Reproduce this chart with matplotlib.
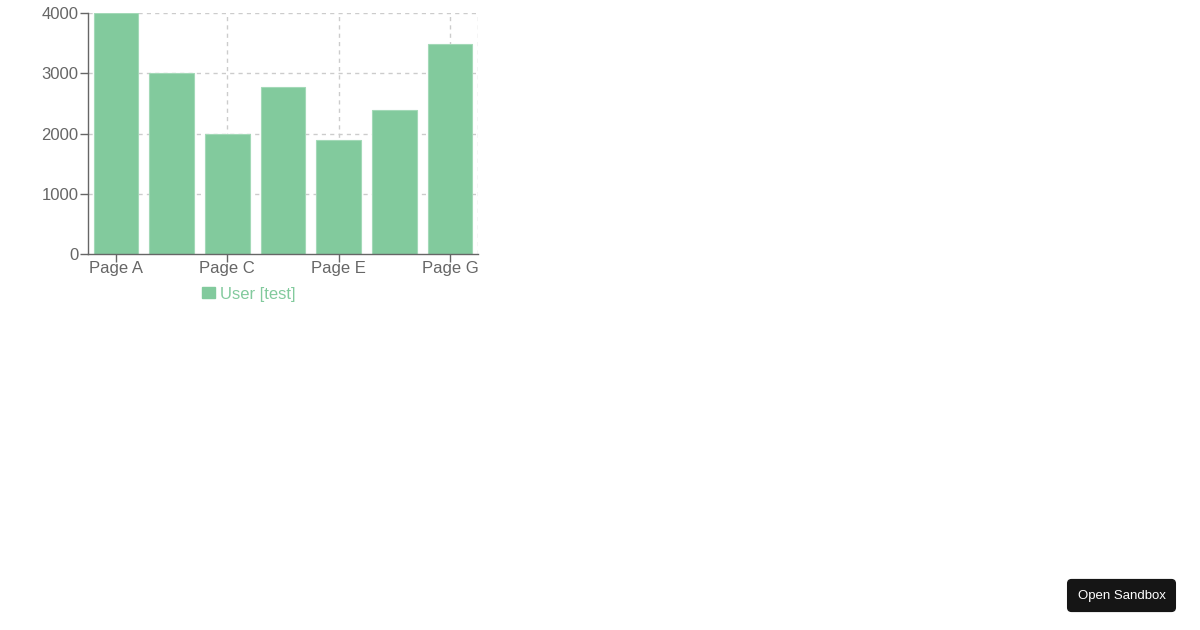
import matplotlib
matplotlib.use("Agg")
import matplotlib.pyplot as plt
from matplotlib.patches import Patch

categories = ["Page A", "Page B", "Page C", "Page D", "Page E", "Page F", "Page G"]
user_values = [4000, 3000, 2000, 2780, 1890, 2390, 3490]
y_ticks = [0, 1000, 2000, 3000, 4000]
series_name = "User [test]"

GREEN = "#82ca9d"
AXIS = "#666666"
GRID = "#cccccc"

plt.rcParams["font.family"] = ["Liberation Sans", "DejaVu Sans"]

fig = plt.figure(figsize=(12, 6.3), dpi=100)
W, H = 1200, 630
left, right, top, bottom = 88, 478, 13, 254
ax = fig.add_axes([left / W, 1 - bottom / H, (right - left) / W, (bottom - top) / H])

x = list(range(len(categories)))
ax.bar(x, user_values, width=0.8, color=GREEN, edgecolor="#a3d9b7", linewidth=0.8, zorder=3)

ax.set_xlim(-0.5, len(categories) - 0.5)
ax.set_ylim(0, 4000)

# grid
for yv in y_ticks[1:]:
    ax.axhline(yv, color=GRID, linestyle=(0, (3, 3)), linewidth=1, zorder=1)
shown = x[::2]
for xv in shown:
    ax.axvline(xv, color=GRID, linestyle=(0, (3, 3)), linewidth=1, zorder=1)
ax.axvline(len(categories) - 0.5, color=GRID, linestyle=(0, (3, 3)), linewidth=1, zorder=1)

ax.set_xticks(shown)
ax.set_xticklabels([categories[i] for i in shown])
ax.set_yticks(y_ticks)
ax.set_yticklabels([str(v) for v in y_ticks])
ax.tick_params(axis="both", colors=AXIS, labelcolor=AXIS, labelsize=12, length=6, width=1)
ax.tick_params(axis="x", pad=-1)
ax.tick_params(axis="y", pad=1)

for s in ["top", "right"]:
    ax.spines[s].set_visible(False)
for s in ["left", "bottom"]:
    ax.spines[s].set_color(AXIS)
    ax.spines[s].set_linewidth(1)
    ax.spines[s].set_zorder(4)

leg = fig.legend(handles=[Patch(facecolor=GREEN, edgecolor=GREEN, label=series_name)],
                 loc="center", bbox_to_anchor=(249 / W, 1 - 294 / H), frameon=False,
                 fontsize=12, handlelength=0.75, handleheight=0.65, handletextpad=0.35)
for t in leg.get_texts():
    t.set_color(GREEN)

fig.text(1121.5 / W, 1 - 595.5 / H, "Open Sandbox", color="white", fontsize=9.5,
         ha="center", va="center",
         bbox=dict(boxstyle="round,pad=0.75,rounding_size=0.3", facecolor="#151515", edgecolor="#151515"))

fig.savefig("out.png", dpi=100)
